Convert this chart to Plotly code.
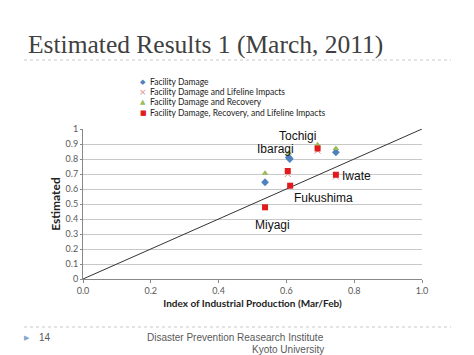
import plotly.graph_objects as go

# Data
fd_x = [0.537, 0.607, 0.610, 0.746]
fd_y = [0.645, 0.81, 0.80, 0.845]
fdl_x = [0.604, 0.692, 0.746]
fdl_y = [0.700, 0.855, 0.683]
fdr_x = [0.537, 0.607, 0.692, 0.746]
fdr_y = [0.705, 0.84, 0.895, 0.87]
all_x = [0.537, 0.604, 0.611, 0.692, 0.746]
all_y = [0.478, 0.72, 0.622, 0.87, 0.695]
line_x = [0.0, 1.0]
line_y = [0.0, 1.0]

pref_names = ["Tochigi", "Ibaragi", "Iwate", "Fukushima", "Miyagi"]
pref_x = [0.634, 0.569, 0.808, 0.708, 0.56]
pref_y = [0.953, 0.867, 0.687, 0.54, 0.36]

series_names = ["Facility Damage", "Facility Damage and Lifeline Impacts",
                "Facility Damage and Recovery",
                "Facility Damage, Recovery, and Lifeline Impacts"]
series_colors = ["#4F81BD", "#D9908E", "#9BBB59", "#E31A1C"]
series_syms = ["\u25C6", "\u00D7", "\u25B2", "\u25A0"]

y_ticks = [i / 10 for i in range(11)]
y_labels = ["0", "0.1", "0.2", "0.3", "0.4", "0.5", "0.6", "0.7", "0.8", "0.9", "1"]
x_ticks = [0.0, 0.2, 0.4, 0.6, 0.8, 1.0]
x_labels = ["0.0", "0.2", "0.4", "0.6", "0.8", "1.0"]

# plot area in target pixels
PX0, PX1, PY0, PY1 = 83, 422, 129, 279
BODY = 8  # default browser body margin


def px(x):
    return (x - PX0) / (PX1 - PX0)


def py(y):
    return (PY1 - y) / (PY1 - PY0)


fig = go.Figure()
fig.add_trace(go.Scatter(x=line_x, y=line_y, mode="lines",
                         line=dict(color="#333333", width=1), showlegend=False))
fig.add_trace(go.Scatter(x=fd_x, y=fd_y, mode="markers", name=series_names[0],
                         marker=dict(symbol="diamond", size=6, color=series_colors[0])))
fig.add_trace(go.Scatter(x=fdl_x, y=fdl_y, mode="markers", name=series_names[1],
                         marker=dict(symbol="x-thin", size=6,
                                     line=dict(color=series_colors[1], width=1))))
fig.add_trace(go.Scatter(x=fdr_x, y=fdr_y, mode="markers", name=series_names[2],
                         marker=dict(symbol="triangle-up", size=6, color=series_colors[2])))
fig.add_trace(go.Scatter(x=all_x, y=all_y, mode="markers", name=series_names[3],
                         marker=dict(symbol="square", size=6, color=series_colors[3])))

anns = []
for n, x, y in zip(pref_names, pref_x, pref_y):
    anns.append(dict(x=x, y=y, xref="x", yref="y", text=n, showarrow=False,
                     font=dict(family="Liberation Sans", size=12, color="#111111")))

# legend (manual)
leg_y = [81.5, 92, 102.5, 113]
for i, (n, c, s) in enumerate(zip(series_names, series_colors, series_syms)):
    anns.append(dict(x=px(143), y=py(leg_y[i]), xref="paper", yref="paper", text=s,
                     showarrow=False, xanchor="center", yanchor="middle",
                     font=dict(family="DejaVu Sans", size=7 if s != "\u00D7" else 9,
                               color=c)))
    anns.append(dict(x=px(147.5), y=py(leg_y[i]), xref="paper", yref="paper", text=n,
                     showarrow=False, xanchor="left", yanchor="middle",
                     font=dict(family="Lato", size=8.5, color="#222222")))

# title
anns.append(dict(x=px(26), y=py(45), xref="paper", yref="paper",
                 text="Estimated Results 1 (March, 2011)", showarrow=False,
                 xanchor="left", yanchor="middle",
                 font=dict(family="Liberation Serif", size=25.5, color="#404040")))
# footer
anns.append(dict(x=px(27), y=py(338), xref="paper", yref="paper",
                 text="\u25B6", showarrow=False, xanchor="center", yanchor="middle",
                 font=dict(family="DejaVu Sans", size=7, color="#7FA7D0")))
anns.append(dict(x=px(37), y=py(337.5), xref="paper", yref="paper",
                 text="14", showarrow=False, xanchor="left", yanchor="middle",
                 font=dict(family="Liberation Sans", size=10, color="#595959")))
anns.append(dict(x=px(326), y=py(337), xref="paper", yref="paper",
                 text="Disaster Prevention Reasearch Institute", showarrow=False,
                 xanchor="right", yanchor="middle",
                 font=dict(family="Liberation Sans", size=10, color="#595959")))
anns.append(dict(x=px(326), y=py(349), xref="paper", yref="paper",
                 text="Kyoto University", showarrow=False,
                 xanchor="right", yanchor="middle",
                 font=dict(family="Liberation Sans", size=10, color="#595959")))

shapes = [
    dict(type="line", xref="paper", yref="paper", x0=px(24), x1=px(451),
         y0=py(60), y1=py(60), line=dict(color="#C8C8C8", width=1, dash="dot")),
    dict(type="line", xref="paper", yref="paper", x0=px(24), x1=px(451),
         y0=py(327), y1=py(327), line=dict(color="#C8C8C8", width=1, dash="dot")),
]

fig.update_layout(
    width=474, height=355,
    margin=dict(l=PX0 - BODY, r=474 - PX1 + BODY, t=PY0 - BODY, b=355 - PY1 + BODY,
                autoexpand=False),
    paper_bgcolor="white", plot_bgcolor="white",
    showlegend=False,
    annotations=anns, shapes=shapes,
    font=dict(family="Lato", size=9, color="#595959"),
)
fig.update_xaxes(range=[0, 1], tickvals=x_ticks, ticktext=x_labels,
                 showgrid=False, showline=True, linecolor="#888888", linewidth=1,
                 ticks="outside", ticklen=3, tickcolor="#888888", zeroline=False,
                 tickfont=dict(family="Lato", size=9, color="#595959"),
                 title=dict(text="<b>Index of Industrial Production (Mar/Feb)</b>",
                            font=dict(family="Lato", size=10, color="#222222"),
                            standoff=5))
fig.update_yaxes(range=[0, 1], tickvals=y_ticks, ticktext=y_labels,
                 showgrid=True, gridcolor="#C8C8C8", gridwidth=1,
                 showline=True, linecolor="#888888", linewidth=1,
                 ticks="outside", ticklen=2, tickcolor="#888888", zeroline=False,
                 tickfont=dict(family="Lato", size=9, color="#595959"),
                 title=dict(text="<b>Estimated</b>",
                            font=dict(family="Lato", size=12, color="#222222"),
                            standoff=2))

fig.write_html("out.html")
